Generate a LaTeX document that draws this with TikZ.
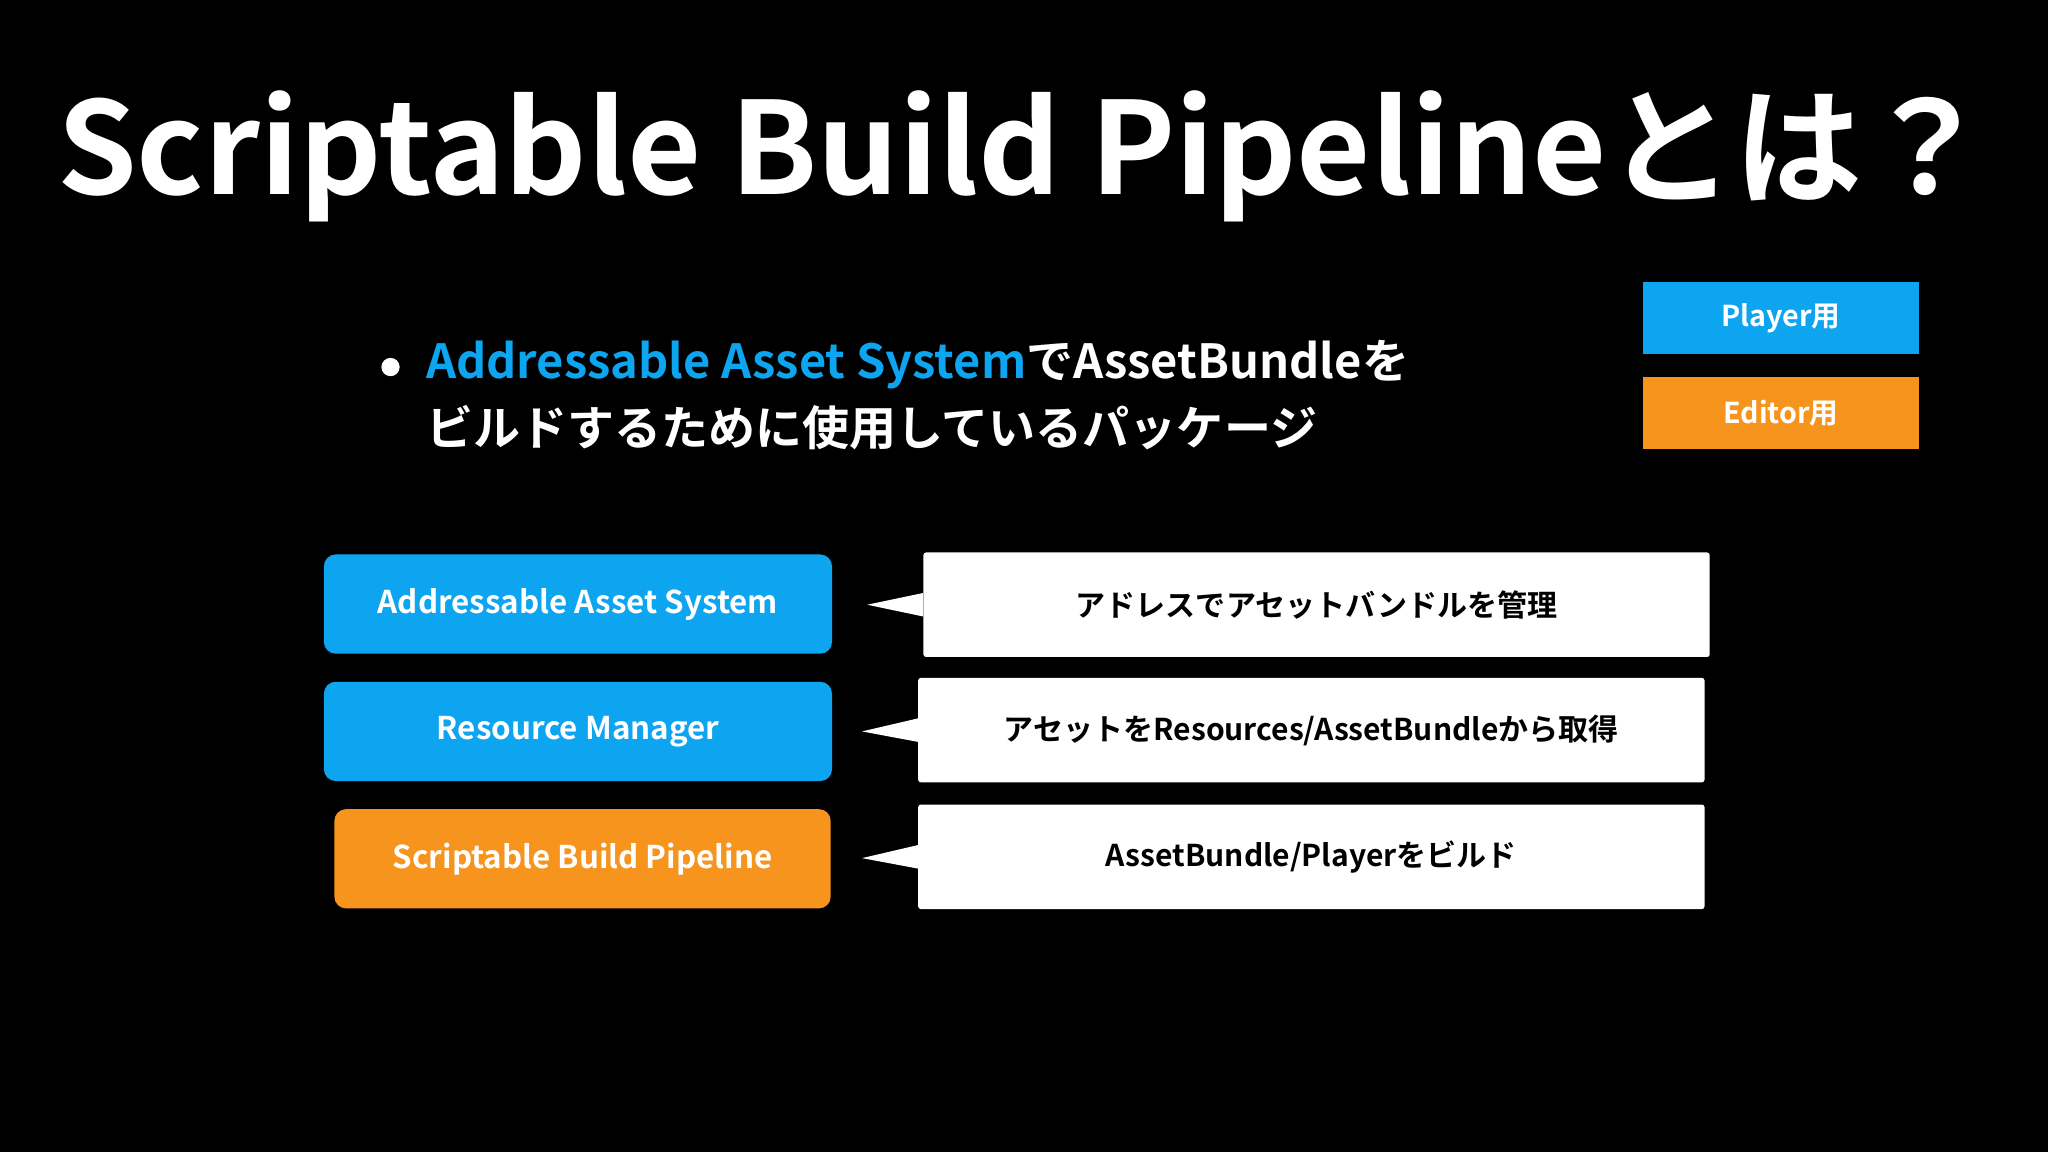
\documentclass[tikz,border=0pt]{standalone}
\usepackage{fontspec}
\setmainfont{Noto Sans CJK JP}[BoldFont={Noto Sans CJK JP Bold}]
\definecolor{ublue}{HTML}{0EA5F0}
\definecolor{uorange}{HTML}{F7941D}
\begin{document}
\begin{tikzpicture}[x=1pt,y=-1pt,
  lbox/.style={rounded corners=9pt,inner sep=0pt,text=white,font=\bfseries\fontsize{24}{28}\selectfont},
  wbox/.style={fill=white,rounded corners=2pt,inner sep=0pt,text=black,font=\bfseries\fontsize{23}{28}\selectfont},
  leg/.style={inner sep=0pt,text=white,font=\bfseries\fontsize{22}{26}\selectfont}]
\fill[black] (0,0) rectangle (1568,882);
\useasboundingbox (0,0) rectangle (1568,882);
\node[text=white,font=\bfseries\fontsize{98}{110}\selectfont] (title) at (784,120) {Scriptable Build Pipelineとは？};
\fill[white] (299,281) circle (7) coordinate (dot);
\node[anchor=base west,inner sep=0pt,text=white,font=\bfseries\fontsize{36}{44}\selectfont] (l1) at (326,290) {\textcolor{ublue}{Addressable Asset System}でAssetBundleを};
\node[anchor=base west,inner sep=0pt,text=white,font=\bfseries\fontsize{36}{44}\selectfont] (l2) at (326,341) {ビルドするために使用しているパッケージ};
\node[leg,fill=ublue,minimum width=211,minimum height=55] (p) at (1363.5,243.5) {Player用};
\node[leg,fill=uorange,minimum width=211,minimum height=55] (e) at (1363.5,316.5) {Editor用};
\node[lbox,fill=ublue,minimum width=389,minimum height=76] (a) at (442.5,462.5) {Addressable Asset System};
\node[lbox,fill=ublue,minimum width=389,minimum height=76] (r) at (442.5,560) {Resource Manager};
\node[lbox,fill=uorange,minimum width=380,minimum height=76] (s) at (446,657.5) {Scriptable Build Pipeline};
\node[wbox,minimum width=602,minimum height=80] (w1) at (1008,463) {アドレスでアセットバンドルを管理};
\node[wbox,minimum width=602,minimum height=80] (w2) at (1004,559) {アセットをResources/AssetBundleから取得};
\node[wbox,minimum width=602,minimum height=80] (w3) at (1004,656) {AssetBundle/Playerをビルド};
\coordinate (t1) at (664,463);
\coordinate (t2) at (660,560);
\coordinate (t3) at (660,657);
\fill[white] (t1) -- ([yshift=-9]w1.west) -- ([yshift=9]w1.west) -- cycle;
\fill[white] (t2) -- ([yshift=-9]w2.west) -- ([yshift=9]w2.west) -- cycle;
\fill[white] (t3) -- ([yshift=-9]w3.west) -- ([yshift=9]w3.west) -- cycle;
\end{tikzpicture}
\end{document}
